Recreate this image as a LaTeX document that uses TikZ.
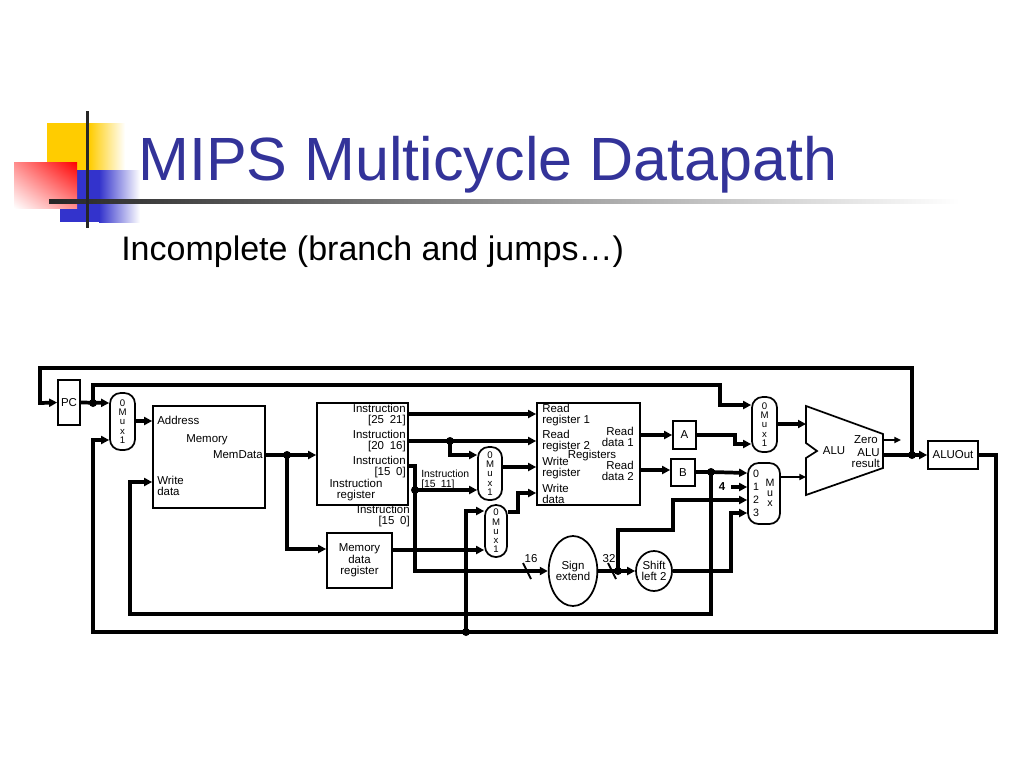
\documentclass[tikz,border=0pt]{standalone}
\usepackage{fontspec}
\setmainfont{Liberation Sans}
\usetikzlibrary{arrows.meta,shapes.geometric,shadings}
\definecolor{ttl}{RGB}{51,51,153}
\definecolor{yel}{RGB}{255,204,0}
\definecolor{blu}{RGB}{51,51,204}
\begin{document}
\begin{tikzpicture}[x=0.75pt,y=-0.75pt,
  wire/.style={line width=2.8pt},
  thin/.style={line width=1.4pt},
  arr/.style={wire,-{Triangle[length=6pt,width=6pt]}},
  tarr/.style={thin,-{Triangle[length=5pt,width=4.5pt]}},
  box/.style={draw,line width=1.3pt,inner sep=0pt,font=\fontsize{8.6}{8.6}\selectfont},
  mux/.style={box,rounded corners=8pt,align=center,font=\fontsize{7.2}{6.9}\selectfont},
  lbl/.style={inner sep=0pt,font=\fontsize{8.6}{8.4}\selectfont,align=left},
  dot/.style={circle,fill,inner sep=0pt,minimum size=6pt}]
\useasboundingbox (0,0) rectangle (1024,768);
% decoration
\fill[yel] (47,123) rectangle (90,170);
\shade[left color=yel,right color=white] (89,123) rectangle (125,170);
\fill[blu] (60,170) rectangle (100,222);
\shade[left color=blu,right color=white] (99,170) rectangle (140,222);
\shade[upper left=red!45,upper right=red,lower left=white,lower right=red!45] (14,162) rectangle (77,208);
\shade[left color=black!85,right color=white] (49,199.5) rectangle (960,203);
\fill[black!85] (85.5,111) rectangle (88.5,228);
\node[anchor=base west,inner sep=0pt,text=ttl,font=\fontsize{45.8}{45.8}\selectfont] (title) at (138,180) {MIPS Multicycle Datapath};
\node[anchor=base west,inner sep=0pt,font=\fontsize{25.5}{25.5}\selectfont] (sub) at (121,260) {Incomplete (branch and jumps…)};
% blocks
\node[box,minimum width=16.5pt,minimum height=33.75pt] (pc) at (69,402.5) {PC};
\node[mux,minimum width=18.75pt,minimum height=42.75pt] (m1) at (122.5,421.5) {0\\M\\u\\x\\1};
\node[box,minimum width=84pt,minimum height=76.5pt] (mem) at (209,457) {};
\node[box,minimum width=68.25pt,minimum height=76.5pt] (ir) at (362.5,454) {};
\node[box,minimum width=48.75pt,minimum height=41.25pt,align=center] (mdr) at (359.5,560.5) {Memory\\data\\register};
\node[mux,minimum width=18pt,minimum height=39.75pt] (rd) at (490,473.5) {0\\M\\u\\x\\1};
\node[mux,minimum width=16.5pt,minimum height=39pt] (mr) at (496,531) {0\\M\\u\\x\\1};
\node[box,minimum width=77.25pt,minimum height=76.5pt] (regs) at (588.5,454) {};
\node[box,minimum width=17.25pt,minimum height=21pt] (A) at (684.5,435) {A};
\node[box,minimum width=18pt,minimum height=20.25pt] (B) at (683,472.5) {B};
\node[mux,minimum width=18.75pt,minimum height=41.25pt] (sa) at (764.5,424.5) {0\\M\\u\\x\\1};
\node[mux,minimum width=24pt,minimum height=45.75pt] (sb) at (764,493.5) {};
\node[box,ellipse,minimum width=33pt,minimum height=52.5pt,align=center] (se) at (573,571) {Sign\\extend};
\node[box,ellipse,minimum width=27pt,minimum height=30pt,align=center] (sl) at (654,571) {Shift\\left 2};
\node[box,minimum width=37.5pt,minimum height=21pt] (ao) at (953,455) {ALUOut};
\draw[line width=1.3pt] (806,406) -- (883,434) -- (883,468) -- (806,495) -- (806,458) -- (817,451) -- (806,443) -- cycle;
% labels
\node[lbl,anchor=west] (l1) at (157,420) {Address};
\node[lbl] (l2) at (207,440) {Memory};
\node[lbl,anchor=east] (l3) at (263,455) {MemData};
\node[lbl,anchor=west] (l4) at (157,486) {Write\\data};
\node[lbl,anchor=east,align=right] (l5) at (406,415) {Instruction\\{}[25\,\,\,21]};
\node[lbl,anchor=east,align=right] (l6) at (406,441) {Instruction\\{}[20\,\,\,16]};
\node[lbl,anchor=east,align=right] (l7) at (406,467) {Instruction\\{}[15\,\,\,0]};
\node[lbl,align=center] (l8) at (356,490) {Instruction\\register};
\node[lbl,anchor=east,align=right] (l9) at (410,516) {Instruction\\{}[15\,\,\,0]};
\node[lbl,anchor=west,font=\fontsize{7.8}{7.8}\selectfont] (l10) at (421,480) {Instruction\\{}[15\,\,\,11]};
\node[lbl,anchor=west] (r1) at (542,415) {Read\\register 1};
\node[lbl,anchor=west] (r2) at (542,441) {Read\\register 2};
\node[lbl,anchor=east,align=right] (r3) at (634,437) {Read\\data 1};
\node[lbl] (r4) at (592,456) {Registers};
\node[lbl,anchor=west] (r5) at (542,468) {Write\\register};
\node[lbl,anchor=east,align=right] (r6) at (634,471) {Read\\data 2};
\node[lbl,anchor=west] (r7) at (542,494) {Write\\data};
\node[lbl,font=\fontsize{8}{8}\selectfont] (b0) at (756,474) {0};
\node[lbl,font=\fontsize{8}{8}\selectfont] (b1) at (756,487) {1};
\node[lbl,font=\fontsize{8}{8}\selectfont] (b2) at (756,500) {2};
\node[lbl,font=\fontsize{8}{8}\selectfont] (b3) at (756,513) {3};
\node[lbl,align=center,font=\fontsize{8}{7.6}\selectfont] (bm) at (770,493) {M\\u\\x};
\node[lbl] (four) at (722,487) {\textbf{4}};
\node[lbl] (alu) at (834,451) {ALU};
\node[lbl] (zero) at (866,440) {Zero};
\node[lbl,align=right,anchor=east] (res) at (880,458) {ALU\\result};
\node[lbl] (n16) at (531,559) {16};
\node[lbl] (n32) at (609,559) {32};
% wires
\draw[arr] (912,455) -- (912,368) -- (40,368) -- (40,403) -- (pc.west);
\draw[arr] (pc.east) -- (m1.west |- 0,403);
\draw[arr] (93,403) -- (93,385) -- (720,385) -- (720,405) -- (sa.west |- 0,405);
\draw[arr] (m1.east |- 0,421) -- (mem.west |- 0,421);
\draw[arr] (ao.east) -- (996,455) -- (996,632) -- (93,632) -- (93,440) -- (m1.west |- 0,440);
\draw[arr] (mem.east |- 0,455) -- (ir.west |- 0,455);
\draw[arr] (287,455) -- (287,549) -- (mdr.west |- 0,549);
\draw[arr] (ir.east |- 0,414) -- (regs.west |- 0,414);
\draw[arr] (ir.east |- 0,441) -- (regs.west |- 0,441);
\draw[arr] (450,441) -- (450,455) -- (rd.west |- 0,455);
\draw[arr] (ir.east |- 0,466) -- (415,466) -- (415,571) -- (se.west);
\draw[arr] (415,490) -- (rd.west |- 0,490);
\draw[arr] (rd.east |- 0,467) -- (regs.west |- 0,467);
\draw[arr] (466,632) -- (466,511) -- (mr.west |- 0,511);
\draw[arr] (mdr.east |- 0,550) -- (mr.west |- 0,550);
\draw[arr] (mr.east |- 0,512) -- (518,512) -- (518,493) -- (regs.west |- 0,493);
\draw[arr] (regs.east |- 0,435) -- (A.west);
\draw[arr] (A.east) -- (735,435) -- (735,444) -- (sa.west |- 0,444);
\draw[arr] (regs.east |- 0,470) -- (B.west |- 0,470);
\draw[arr] (B.east |- 0,472) -- (711,472) -- (sb.west |- 0,473);
\draw[arr] (711,472) -- (711,614) -- (130,614) -- (130,482) -- (mem.west |- 0,482);
\draw[arr] (731,487) -- (sb.west |- 0,487);
\draw[arr] (se.east) -- (sl.west);
\draw[arr] (618,571) -- (618,530) -- (673,530) -- (673,500) -- (sb.west |- 0,500);
\draw[arr] (sl.east) -- (731,571) -- (731,513) -- (sb.west |- 0,513);
\draw[arr] (sa.east |- 0,424) -- (806,424);
\draw[tarr] (sb.east |- 0,477) -- (806,477);
\draw[tarr] (883,440) -- (901,440);
\draw[arr] (883,455) -- (ao.west);
\draw[thin] (523,563) -- (531,579);
\draw[thin] (608,563) -- (616,579);
% junctions
\foreach \p in {(912,455),(93,403),(287,455),(450,441),(415,490),(466,632),(711,472),(618,571)}
  \node[dot] at \p {};
\end{tikzpicture}
\end{document}
